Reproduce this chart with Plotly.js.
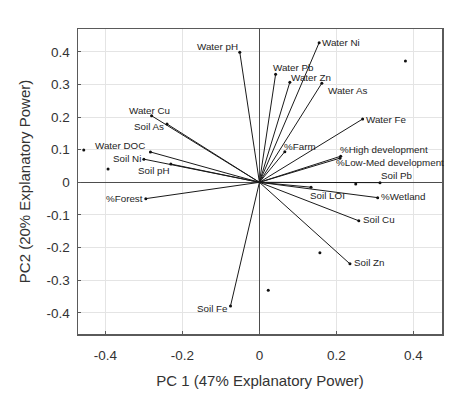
<!DOCTYPE html>
<html>
<head>
<meta charset="utf-8">
<script src="https://cdn.plot.ly/plotly-3.0.1.min.js"></script>
<style>html,body{margin:0;padding:0;background:#fff;}#chart{width:474px;height:398px;}</style>
</head>
<body>
<div id="chart"></div>
<script>
// Loading vectors (variable names and PC coordinates)
var variables = ["Water pH","Water Ni","Water Pb","Water Zn","Water As","Water Fe","%Farm",
  "%High development","%Low-Med development","Soil Pb","Soil LOI","%Wetland","Soil Cu","Soil Zn",
  "Soil Fe","%Forest","Water Cu","Soil As","Water DOC","Soil Ni","Soil pH"];
var loadPC1 = [-0.051,0.155,0.042,0.079,0.162,0.268,0.066,0.211,0.209,0.313,0.134,0.307,0.258,0.235,
  -0.075,-0.295,-0.280,-0.240,-0.283,-0.300,-0.230];
var loadPC2 = [0.399,0.428,0.331,0.307,0.304,0.194,0.094,0.080,0.074,-0.001,-0.015,-0.047,-0.118,-0.250,
  -0.379,-0.050,0.204,0.179,0.093,0.071,0.056];

// Sample scores
var scorePC1 = [-0.456,-0.393,0.379,0.250,0.157,0.023];
var scorePC2 = [0.099,0.041,0.372,-0.005,-0.216,-0.331];

// Tick labels
var xTickVals = [-0.4,-0.2,0,0.2,0.4];
var xTickText = ["-0.4","-0.2","0","0.2","0.4"];
var yTickVals = [-0.4,-0.3,-0.2,-0.1,0,0.1,0.2,0.3,0.4];
var yTickText = ["-0.4","-0.3","-0.2","-0.1","0","0.1","0.2","0.3","0.4"];

// Label placement (anchor, pixel shifts) – layout only
var labelPlace = {
  "Water pH":["right",-1,6], "Water Ni":["left",2,0], "Water Pb":["left",-4,7],
  "Water Zn":["left",0,5], "Water As":["left",5,-7], "Water Fe":["left",2,0],
  "%Farm":["left",-2,5], "%High development":["left",-2,7], "%Low-Med development":["left",-5,-4],
  "Soil Pb":["left",0,7], "Soil LOI":["left",-2,-8], "%Wetland":["left",2,1],
  "Soil Cu":["left",3,1], "Soil Zn":["left",3,1], "Soil Fe":["right",-2,-3],
  "%Forest":["right",-2,0], "Water Cu":["left",-24,5], "Soil As":["right",-2,-3],
  "Water DOC":["right",-4,6], "Soil Ni":["right",-2,1], "Soil pH":["right",0,-6]
};

var lx = [], ly = [];
for (var i = 0; i < variables.length; i++) {
  lx.push(0, loadPC1[i], null);
  ly.push(0, loadPC2[i], null);
}

var FONT = "Arial, 'Liberation Sans', sans-serif";

var traces = [
  {x: lx, y: ly, mode: "lines", type: "scatter", line: {color: "#1a1a1a", width: 1}, hoverinfo: "skip"},
  {x: loadPC1, y: loadPC2, mode: "markers", type: "scatter", marker: {color: "#111", size: 3}},
  {x: scorePC1, y: scorePC2, mode: "markers", type: "scatter", marker: {color: "#111", size: 3}}
];

var annotations = variables.map(function(v, i) {
  var p = labelPlace[v];
  return {x: loadPC1[i], y: loadPC2[i], xref: "x", yref: "y", text: v, showarrow: false,
    xanchor: p[0], yanchor: "middle", xshift: p[1], yshift: p[2], borderpad: 0,
    font: {family: FONT, size: 9.8, color: "#1e1e1e"}};
});

var axisCommon = {
  showgrid: true, gridcolor: "#e4e4e4", gridwidth: 1,
  zeroline: true, zerolinecolor: "#4d4d4d", zerolinewidth: 1.3,
  showline: true, mirror: true, linecolor: "#5a5a5a", linewidth: 1.5,
  ticks: "inside", ticklen: 3, tickcolor: "#5a5a5a", tickwidth: 1,
  tickfont: {family: FONT, size: 13.5, color: "#333"},
  fixedrange: true
};

var layout = {
  width: 474, height: 398,
  margin: {l: 78, r: 32, t: 29, b: 64},
  paper_bgcolor: "#fff", plot_bgcolor: "#fff",
  showlegend: false,
  xaxis: Object.assign({}, axisCommon, {
    range: [-0.471, 0.474], tickmode: "array", tickvals: xTickVals, ticktext: xTickText,
    ticklabelstandoff: 8,
    title: {text: "PC 1 (47% Explanatory Power)", standoff: 14,
      font: {family: FONT, size: 15, color: "#333"}}
  }),
  yaxis: Object.assign({}, axisCommon, {
    range: [-0.465, 0.470], tickmode: "array", tickvals: yTickVals, ticktext: yTickText,
    ticklabelstandoff: 4,
    title: {text: "PC2 (20% Explanatory Power)", standoff: 12,
      font: {family: FONT, size: 15, color: "#333"}}
  }),
  annotations: annotations
};

Plotly.newPlot("chart", traces, layout, {displayModeBar: false, staticPlot: true});
</script>
</body>
</html>
